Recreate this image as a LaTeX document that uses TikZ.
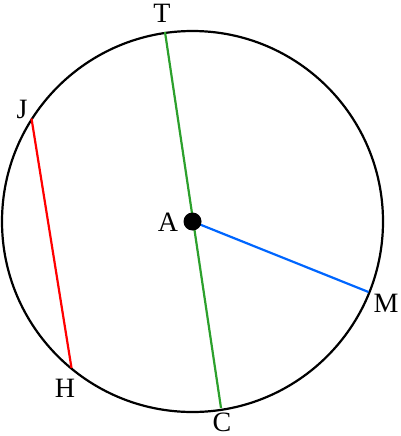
\documentclass[tikz,border=0pt]{standalone}
\usepackage{fontspec}
\setmainfont{Liberation Serif}
\usetikzlibrary{positioning}
\definecolor{diamgreen}{RGB}{44,160,44}
\definecolor{radblue}{RGB}{0,102,255}
\definecolor{chordred}{RGB}{255,0,0}
\begin{document}
\begin{tikzpicture}[x=1pt,y=-1pt,
    lbl/.style={font=\fontsize{28}{28}\selectfont,inner sep=0pt},
    seg/.style={line width=2.2pt}]

\useasboundingbox (0,0) rectangle (400,436);

% points on the circle
\coordinate (A) at (192.5,221.5);
\coordinate (T) at (165,32);
\coordinate (C) at (221,408);
\coordinate (J) at (31.5,118.5);
\coordinate (H) at (71.5,368);
\coordinate (M) at (368.5,292);

\draw[line width=2.2pt] (A) circle (190.5);

\draw[seg,diamgreen] (T) -- (C);
\draw[seg,chordred] (J) -- (H);
\draw[seg,radblue] (A) -- (M);

\fill (A) circle (9);

% labels
\node[lbl] (lA) at (168,222) {A};
\node[lbl] (lT) at (162,13) {T};
\node[lbl] (lJ) at (22,109) {J};
\node[lbl] (lH) at (65,388) {H};
\node[lbl] (lC) at (222,422) {C};
\node[lbl] (lM) at (386,303) {M};
\end{tikzpicture}
\end{document}
